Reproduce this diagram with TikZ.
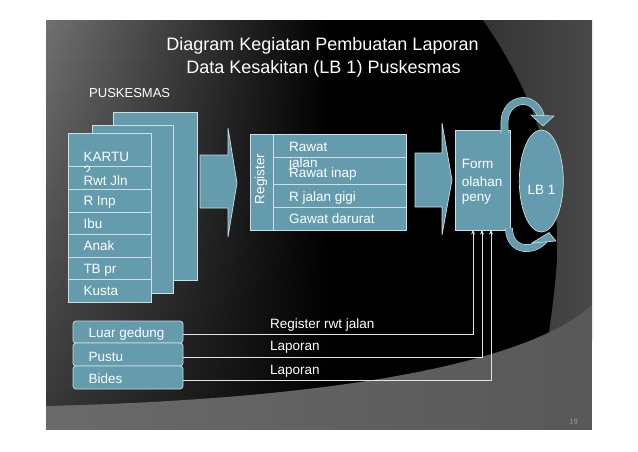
\documentclass[tikz,border=0pt]{standalone}
\usepackage{fontspec}
\setmainfont{Liberation Sans}
\usetikzlibrary{shapes.geometric,arrows.meta}
\definecolor{tealbox}{RGB}{100,155,173}
\definecolor{boxedge}{RGB}{205,222,228}
\definecolor{wire}{RGB}{228,228,228}
\definecolor{slidegray}{RGB}{112,112,112}
\definecolor{cornerA}{RGB}{52,52,52}
\definecolor{cornerB}{RGB}{72,72,72}
\definecolor{bandleft}{RGB}{106,106,106}
\definecolor{bandright}{RGB}{88,88,88}
\definecolor{pagegray}{RGB}{150,150,150}
\begin{document}
\begin{tikzpicture}[x=1pt,y=-1pt,
  panel/.style={rectangle, draw=boxedge, line width=0.7pt, fill=tealbox, inner sep=0pt, outer sep=0pt, anchor=north west},
  rpanel/.style={panel, rounded corners=3pt},
  lbl/.style={text=white, font=\fontsize{13.5}{15}\selectfont, inner sep=0pt, anchor=base west},
  ttl/.style={text=white, font=\fontsize{18}{20}\selectfont, inner sep=0pt, anchor=base},
  wireline/.style={draw=wire, line width=1pt},
  wirearrow/.style={wireline, -{Stealth[length=4.5pt,width=4pt]}},
  bigarrow/.style={fill=tealbox, draw=boxedge, line width=0.7pt},
  band/.style={draw=boxedge, line width=0.6pt, double=tealbox, double distance=6.5pt},
  headshape/.style={fill=tealbox, draw=boxedge, line width=0.6pt},
]
\useasboundingbox (0,0) rectangle (638,451);
% background
\fill[white] (0,0) rectangle (638,451);
\fill[black] (46,20) rectangle (592,430);
\foreach \i in {0,...,40}{
  \pgfmathtruncatemacro{\p}{100-1.3*\i}
  \shade[left color=slidegray!\p!black, right color=black] (46,20+10*\i) rectangle (330,{min(430,30.6+10*\i)});
}
\fill[black] (330,20) rectangle (592,430);
\shade[left color=cornerA, right color=cornerB] (483,20) .. controls (535,95) and (560,170) .. (557,260) .. controls (555,290) and (552,310) .. (548,340) -- (592,340) -- (592,20) -- cycle;
\shade[left color=bandleft, right color=bandright] (46,406) .. controls (300,400) and (520,370) .. (592,305) -- (592,430) -- (46,430) -- cycle;
\fill[white] (0,430) rectangle (638,451);

% title
\node[ttl] (title1) at (322.5,50.7) {Diagram Kegiatan Pembuatan Laporan};
\node[ttl] (title2) at (323.5,73.3) {Data Kesakitan (LB 1) Puskesmas};
\node[text=white, font=\fontsize{13}{15}\selectfont, inner sep=0pt, anchor=base west] (pusk) at (89,97) {PUSKESMAS};

% stacked cards
\node[panel, minimum width=84pt, minimum height=168pt] (cardback) at (113,112) {};
\node[panel, minimum width=81pt, minimum height=168pt] (cardmid) at (92,125) {};
\node[panel, minimum width=83pt, minimum height=33pt] (kartu) at (68,133) {};
\node[lbl] (kartut) at (83.3,161.7) {KARTU};
\node[panel, minimum width=83pt, minimum height=23pt] (rwt) at (68,166) {};
\begin{scope}
\clip (68,160) rectangle (151,171.5);
\node[lbl] (kartu2) at (83.3,175) {2};
\end{scope}
\node[lbl] (rwtt) at (83.3,185) {Rwt Jln};
\node[panel, minimum width=83pt, minimum height=23pt] (rinp) at (68,189) {};
\node[lbl] (rinpt) at (83.3,205.5) {R Inp};
\node[panel, minimum width=83pt, minimum height=22pt] (ibu) at (68,212) {};
\node[lbl] (ibut) at (83.3,228) {Ibu};
\node[panel, minimum width=83pt, minimum height=23pt] (anak) at (68,234) {};
\node[lbl] (anakt) at (83.3,250.5) {Anak};
\node[panel, minimum width=83pt, minimum height=22pt] (tbpr) at (68,257) {};
\node[lbl] (tbprt) at (83.3,273) {TB pr};
\node[panel, minimum width=83pt, minimum height=23pt] (kusta) at (68,279) {};
\node[lbl] (kustat) at (83.3,295.5) {Kusta};

% big arrow 1
\draw[bigarrow] (200,155) -- (228,155) -- (228,128) -- (237,183) -- (228,237) -- (228,208) -- (200,208) -- cycle;

% register
\node[panel, minimum width=156pt, minimum height=96pt] (register) at (250,134) {};
\draw[boxedge, line width=0.7pt] ([xshift=23pt]register.north west) -- ([xshift=23pt]register.south west);
\draw[boxedge, line width=0.7pt] (273,157) -- (406,157);
\draw[boxedge, line width=0.7pt] (273,184) -- (406,184);
\draw[boxedge, line width=0.7pt] (273,207) -- (406,207);
\node[text=white, font=\fontsize{13.5}{15}\selectfont, inner sep=0pt, rotate=90] (regtitle) at (261,179) {Register};
\node[lbl] (r1a) at (289,151.7) {Rawat};
\node[lbl] (r1b) at (289,167) {jalan};
\node[lbl] (r2) at (289,177) {Rawat inap};
\node[lbl] (r3) at (289,201.7) {R jalan gigi};
\node[lbl] (r4) at (289,223.3) {Gawat darurat};

% big arrow 2
\draw[bigarrow] (415,153) -- (442,153) -- (442,123) -- (452,180) -- (442,235) -- (442,207) -- (415,207) -- cycle;

% form
\node[panel, minimum width=55pt, minimum height=100pt] (form) at (455,130) {};
\node[lbl] (f1) at (461.7,168.3) {Form};
\node[lbl] (f2) at (461.7,186) {olahan};
\node[lbl] (f3) at (461.7,201.7) {peny};

% LB 1
\node[ellipse, draw=boxedge, fill=tealbox, line width=0.7pt, minimum width=44pt, minimum height=102pt, inner sep=0pt] (lb) at (541.3,181) {};
\node[lbl] (lbt) at (527.3,194) {LB 1};

% curved arrows
\draw[band] (504.5,133) -- (504.5,122) arc[start angle=180, end angle=345, x radius=18.5, y radius=21];
\draw[headshape] (531,115) -- (543,126) -- (554,116) -- cycle;
\draw[band] (509,228) .. controls (509,252) and (534,253) .. (545,239);
\draw[headshape] (532,243) -- (549,232.5) -- (556,241) -- cycle;

% bottom boxes
\node[rpanel, minimum width=110pt, minimum height=22pt] (luar) at (73,321) {};
\node[lbl] (luart) at (88.3,337.5) {Luar gedung};
\node[rpanel, minimum width=110pt, minimum height=23pt] (pustu) at (73,343) {};
\node[lbl] (pustut) at (88.3,361) {Pustu};
\node[rpanel, minimum width=110pt, minimum height=23pt] (bides) at (73,366) {};
\node[lbl] (bidest) at (88.3,383.5) {Bides};

% wires
\draw[wirearrow] ([yshift=-2pt]luar.east) -| ([xshift=-9.5pt]form.south);
\draw[wirearrow] ([yshift=-2.5pt]pustu.east) -| ([xshift=-0.5pt]form.south);
\draw[wirearrow] ([yshift=-2.5pt]bides.east) -| ([xshift=8.5pt]form.south);
\node[lbl] (w1) at (270,328) {Register rwt jalan};
\node[lbl] (w2) at (270,350.7) {Laporan};
\node[lbl] (w3) at (270,374) {Laporan};

% page number
\node[text=pagegray, font=\fontsize{7.5}{8}\selectfont, inner sep=0pt, anchor=base] (pagenum) at (573.5,424) {19};
\end{tikzpicture}
\end{document}
